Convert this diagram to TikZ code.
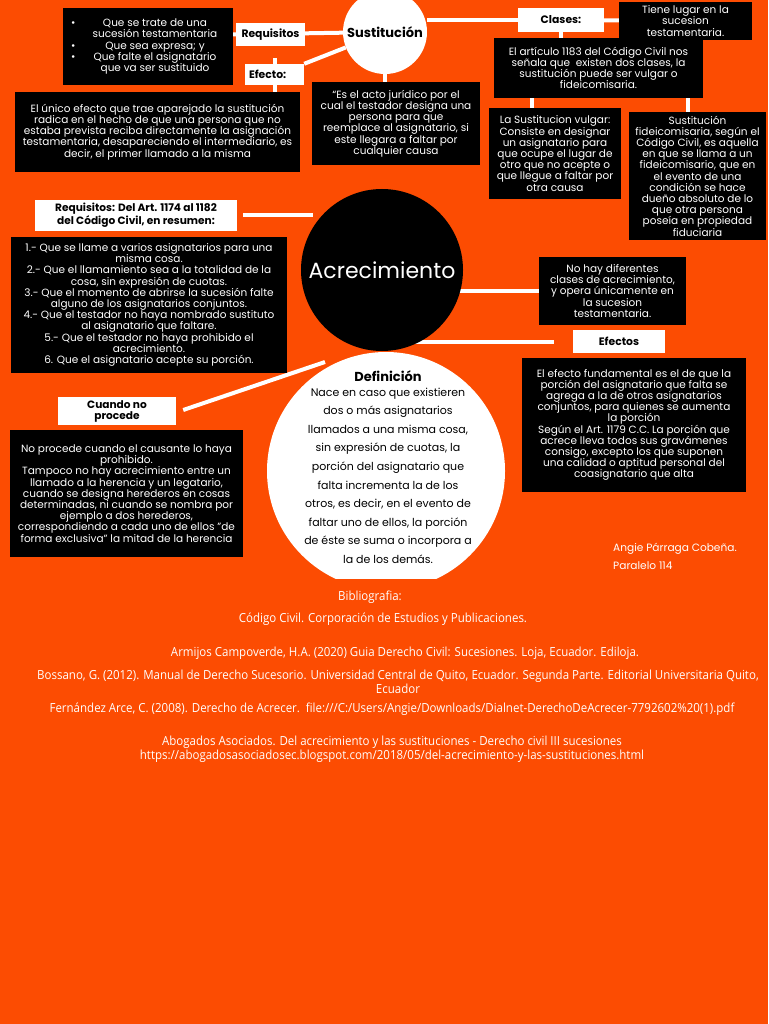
\documentclass[tikz,border=0pt]{standalone}
\usepackage{fontspec}
\setmainfont{Poppins}
\newfontfamily\biblfont[FakeStretch=0.92]{Open Sans}
\definecolor{naranja}{RGB}{252,76,2}
\pgfdeclarelayer{fondo}
\pgfdeclarelayer{enlaces}
\pgfsetlayers{fondo,enlaces,main}

\begin{document}
\begin{tikzpicture}[x=1pt, y=-1pt,
  caja/.style={fill=black, text=white, align=center, inner sep=0pt, font=\fontsize{10.5}{11.2}\selectfont},
  rotulo/.style={fill=white, text=black, align=center, inner sep=0pt, font=\bfseries\fontsize{10.8}{11}\selectfont},
  enlace/.style={white, line width=4pt},
  bibl/.style={text=white, align=center, inner sep=0pt, font=\biblfont\fontsize{12.5}{12}\selectfont}]
  \useasboundingbox (0,0) rectangle (768,1024);
  \node[circle, fill=white, minimum size=84, inner sep=0pt, font=\bfseries\fontsize{13}{15}\selectfont] (sust) at (385,32) {Sustitución};
  \node[caja, minimum width=170, minimum height=77] (reqlist) at (148,46.5)
    {\makebox[14pt][l]{\textbullet}\makebox[140pt]{Que se trate de una}\\
     \makebox[14pt][l]{}\makebox[140pt]{sucesión testamentaria}\\
     \makebox[14pt][l]{\textbullet}\makebox[140pt]{Que sea expresa; y}\\
     \makebox[14pt][l]{\textbullet}\makebox[140pt]{Que falte el asignatario}\\
     \makebox[14pt][l]{}\makebox[140pt]{que va ser sustituido}};
  \node[rotulo, minimum width=69, minimum height=23] (req) at (270.5,34.5) {Requisitos};
  \node[rotulo, minimum width=59, minimum height=21, text width=51pt, align=left] (efecto) at (274.5,74.5) {Efecto:};
  \node[caja, minimum width=285, minimum height=80] (efbox) at (157.5,132)
    {El único efecto que trae aparejado la sustitución\\ radica en el hecho de que una persona que no\\ estaba prevista reciba directamente la asignación\\ testamentaria, desapareciendo el intermediario, es\\ decir, el primer llamado a la misma};
  \node[caja, minimum width=168, minimum height=83] (cita) at (396,123.5)
    {“Es el acto jurídico por el\\ cual el testador designa una\\ persona para que\\ reemplace al asignatario, si\\ este llegara a faltar por\\ cualquier causa};
  \node[rotulo, minimum width=86, minimum height=24] (clases) at (561,20) {Clases:};
  \node[caja, minimum width=133, minimum height=38] (lugar) at (685.5,21)
    {Tiene lugar en la\\ sucesion\\ testamentaria.};
  \node[caja, minimum width=209, minimum height=60] (art) at (598.5,68)
    {El artículo 1183 del Código Civil nos\\ señala que\ \ existen dos clases, la\\ sustitución puede ser vulgar o\\ fideicomisaria.};
  \node[caja, minimum width=132, minimum height=91] (vulgar) at (555,153.5)
    {La Sustitucion vulgar:\\ Consiste en designar\\ un asignatario para\\ que ocupe el lugar de\\ otro que no acepte o\\ que llegue a faltar por\\ otra causa};
  \node[caja, minimum width=137, minimum height=128] (fidei) at (697.5,176)
    {Sustitución\\ fideicomisaria, según el\\ Código Civil, es aquella\\ en que se llama a un\\ fideicomisario, que en\\ el evento de una\\ condición se hace\\ dueño absoluto de lo\\ que otra persona\\ poseía en propiedad\\ fiduciaria};
  \node[circle, fill=black, text=white, minimum size=162, inner sep=0pt, font=\fontsize{22}{26}\selectfont] (acrec) at (382,270) {Acrecimiento};
  \node[rotulo, minimum width=202, minimum height=31, font=\bfseries\fontsize{10.6}{11}\selectfont] (reqtit) at (136,215.5)
    {Requisitos: Del Art. 1174 al 1182\\ del Código Civil, en resumen:};
  \node[caja, minimum width=276, minimum height=136] (reqlst) at (149,305)
    {1.- Que se llame a varios asignatarios para una\\ misma cosa.\\ 2.- Que el llamamiento sea a la totalidad de la\\ cosa, sin expresión de cuotas.\\ 3.- Que el momento de abrirse la sucesión falte\\ alguno de los asignatarios conjuntos.\\ 4.- Que el testador no haya nombrado sustituto\\ al asignatario que faltare.\\ 5.- Que el testador no haya prohibido el\\ acrecimiento.\\ 6. Que el asignatario acepte su porción.};
  \node[caja, minimum width=147, minimum height=68] (nohay) at (612.5,291)
    {No hay diferentes\\ clases de acrecimiento,\\ y opera únicamente en\\ la sucesion\\ testamentaria.};
  \node[rotulo, minimum width=92, minimum height=23] (efectos) at (619,341.5) {Efectos};
  \node[caja, minimum width=224, minimum height=134] (efbox2) at (634,425)
    {El efecto fundamental es el de que la\\ porción del asignatario que falta se\\ agrega a la de otros asignatarios\\ conjuntos, para quienes se aumenta\\ la porción\\ Según el Art. 1179 C.C. La porción que\\ acrece lleva todos sus gravámenes\\ consigo, excepto los que suponen\\ una calidad o aptitud personal del\\ coasignatario que alta};
  \node[align=center, inner sep=0pt, font=\fontsize{11}{18.6}\selectfont] (defin) at (388,467)
    {{\bfseries\fontsize{13}{15}\selectfont Definición}\\[-3.6pt] Nace en caso que existieren\\ dos o más asignatarios\\ llamados a una misma cosa,\\ sin expresión de cuotas, la\\ porción del asignatario que\\ falta incrementa la de los\\ otros, es decir, en el evento de\\ faltar uno de ellos, la porción\\ de éste se suma o incorpora a\\ la de los demás.};
  \node[rotulo, minimum width=118, minimum height=28, font=\bfseries\fontsize{10.6}{11}\selectfont] (cuando) at (117,411) {Cuando no\\ procede};
  \node[caja, minimum width=233, minimum height=127] (cuandobox) at (126.5,493.5)
    {No procede cuando el causante lo haya\\ prohibido.\\ Tampoco no hay acrecimiento entre un\\ llamado a la herencia y un legatario,\\ cuando se designa herederos en cosas\\ determinadas, ni cuando se nombra por\\ ejemplo a dos herederos,\\ correspondiendo a cada uno de ellos "de\\ forma exclusiva" la mitad de la herencia};
  \coordinate (cuandofin) at (325,362);
  \node[anchor=west, text=white, align=left, inner sep=0pt, font=\fontsize{10.6}{18}\selectfont] (autora) at (613,556)
    {Angie Párraga Cobeña.\\ Paralelo 114};
  \node[bibl] (bib0) at (370,597) {Bibliografia:};
  \node[bibl] (bib1) at (383,619) {Código Civil. Corporación de Estudios y Publicaciones.};
  \node[bibl] (bib2) at (405,653) {Armijos Campoverde, H.A. (2020) Guia Derecho Civil: Sucesiones. Loja, Ecuador. Ediloja.};
  \node[bibl] (bib3) at (398,682) {Bossano, G. (2012). Manual de Derecho Sucesorio. Universidad Central de Quito, Ecuador. Segunda Parte. Editorial Universitaria Quito,\\ Ecuador};
  \node[bibl] (bib4) at (392,709) {Fernández Arce, C. (2008). Derecho de Acrecer.\ \ file:///C:/Users/Angie/Downloads/Dialnet-DerechoDeAcrecer-7792602\%20(1).pdf};
  \node[bibl] (bib5) at (392,749) {Abogados Asociados. Del acrecimiento y las sustituciones - Derecho civil III sucesiones\\ https://abogadosasociadosec.blogspot.com/2018/05/del-acrecimiento-y-las-sustituciones.html};
  \begin{pgfonlayer}{fondo}
    \fill[naranja] (0,0) rectangle (768,1024);
    \begin{scope}
      \clip (0,0) rectangle (768,578);
      \fill[white] (386,471) circle[radius=119];
    \end{scope}
  \end{pgfonlayer}
  \begin{pgfonlayer}{enlaces}
    \draw[enlace] (reqlist.east |- req) -- (sust);
    \draw[enlace] (efecto.north east) -- (sust);
    \draw[enlace] ([yshift=6pt]efecto.north) -- (efecto.north |- efbox.north);
    \draw[enlace] (sust) -- (sust |- cita.north);
    \draw[enlace] (clases.west) -- (clases.west -| sust.east);
    \draw[enlace] (clases) -- (lugar);
    \draw[enlace] (clases) -- (clases |- art.north);
    \draw[enlace] ([xshift=43pt]vulgar.north west) -- ([xshift=43pt]vulgar.north west |- art.south);
    \draw[enlace] ([xshift=59pt]fidei.north west) -- ([xshift=59pt]fidei.north west |- art.south);
    \draw[enlace] ([xshift=6pt]reqtit.east) -- +(70,0);
    \draw[enlace] (nohay.west) -- (nohay.west -| acrec);
    \draw[enlace, shorten <=19pt] (efectos.west) -- (efectos.west -| acrec);
    \draw[enlace] ([shift={(7pt,1pt)}]cuando.east) -- (cuandofin);
  \end{pgfonlayer}
\end{tikzpicture}
\end{document}
